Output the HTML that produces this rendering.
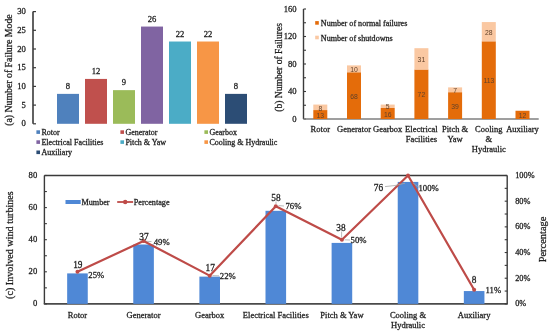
<!DOCTYPE html>
<html><head><meta charset="utf-8"><style>
html,body{margin:0;padding:0;background:#fff;width:550px;height:333px;overflow:hidden;}
svg{display:block;will-change:transform;}
</style></head><body>
<svg width="550" height="333" viewBox="0 0 550 333" style="font-family:'Liberation Serif', serif">
<rect width="550" height="333" fill="#fff"/>
<line x1="33.00" y1="11.60" x2="33.00" y2="123.80" stroke="#3a3a3a" stroke-width="1.6"/>
<line x1="33.00" y1="123.80" x2="36.00" y2="123.80" stroke="#3a3a3a" stroke-width="1.2"/>
<text x="25.80" y="126.40" font-size="8.6" text-anchor="end" fill="#1e1e1e" stroke="#1e1e1e" stroke-width="0.28" font-family='"Liberation Serif", serif' >0</text>
<line x1="33.00" y1="105.10" x2="36.00" y2="105.10" stroke="#3a3a3a" stroke-width="1.2"/>
<text x="25.80" y="107.70" font-size="8.6" text-anchor="end" fill="#1e1e1e" stroke="#1e1e1e" stroke-width="0.28" font-family='"Liberation Serif", serif' >5</text>
<line x1="33.00" y1="86.40" x2="36.00" y2="86.40" stroke="#3a3a3a" stroke-width="1.2"/>
<text x="25.80" y="89.00" font-size="8.6" text-anchor="end" fill="#1e1e1e" stroke="#1e1e1e" stroke-width="0.28" font-family='"Liberation Serif", serif' >10</text>
<line x1="33.00" y1="67.70" x2="36.00" y2="67.70" stroke="#3a3a3a" stroke-width="1.2"/>
<text x="25.80" y="70.30" font-size="8.6" text-anchor="end" fill="#1e1e1e" stroke="#1e1e1e" stroke-width="0.28" font-family='"Liberation Serif", serif' >15</text>
<line x1="33.00" y1="49.00" x2="36.00" y2="49.00" stroke="#3a3a3a" stroke-width="1.2"/>
<text x="25.80" y="51.60" font-size="8.6" text-anchor="end" fill="#1e1e1e" stroke="#1e1e1e" stroke-width="0.28" font-family='"Liberation Serif", serif' >20</text>
<line x1="33.00" y1="30.30" x2="36.00" y2="30.30" stroke="#3a3a3a" stroke-width="1.2"/>
<text x="25.80" y="32.90" font-size="8.6" text-anchor="end" fill="#1e1e1e" stroke="#1e1e1e" stroke-width="0.28" font-family='"Liberation Serif", serif' >25</text>
<line x1="33.00" y1="11.60" x2="36.00" y2="11.60" stroke="#3a3a3a" stroke-width="1.2"/>
<text x="25.80" y="14.20" font-size="8.6" text-anchor="end" fill="#1e1e1e" stroke="#1e1e1e" stroke-width="0.28" font-family='"Liberation Serif", serif' >30</text>
<rect x="57.00" y="93.88" width="22.00" height="29.92" fill="#4F81BD"/>
<text x="68.00" y="88.88" font-size="8.6" text-anchor="middle" fill="#1e1e1e" stroke="#1e1e1e" stroke-width="0.28" font-family='"Liberation Serif", serif' >8</text>
<rect x="85.00" y="78.92" width="22.00" height="44.88" fill="#C0504D"/>
<text x="96.00" y="73.92" font-size="8.6" text-anchor="middle" fill="#1e1e1e" stroke="#1e1e1e" stroke-width="0.28" font-family='"Liberation Serif", serif' >12</text>
<rect x="113.00" y="90.14" width="22.00" height="33.66" fill="#9BBB59"/>
<text x="124.00" y="85.14" font-size="8.6" text-anchor="middle" fill="#1e1e1e" stroke="#1e1e1e" stroke-width="0.28" font-family='"Liberation Serif", serif' >9</text>
<rect x="141.00" y="26.56" width="22.00" height="97.24" fill="#8064A2"/>
<text x="152.00" y="21.56" font-size="8.6" text-anchor="middle" fill="#1e1e1e" stroke="#1e1e1e" stroke-width="0.28" font-family='"Liberation Serif", serif' >26</text>
<rect x="169.00" y="41.52" width="22.00" height="82.28" fill="#4BACC6"/>
<text x="180.00" y="36.52" font-size="8.6" text-anchor="middle" fill="#1e1e1e" stroke="#1e1e1e" stroke-width="0.28" font-family='"Liberation Serif", serif' >22</text>
<rect x="197.00" y="41.52" width="22.00" height="82.28" fill="#F79646"/>
<text x="208.00" y="36.52" font-size="8.6" text-anchor="middle" fill="#1e1e1e" stroke="#1e1e1e" stroke-width="0.28" font-family='"Liberation Serif", serif' >22</text>
<rect x="225.00" y="93.88" width="22.00" height="29.92" fill="#2C4D75"/>
<text x="236.00" y="88.88" font-size="8.6" text-anchor="middle" fill="#1e1e1e" stroke="#1e1e1e" stroke-width="0.28" font-family='"Liberation Serif", serif' >8</text>
<rect x="36.40" y="130.30" width="3.60" height="3.60" fill="#4F81BD"/>
<text x="41.40" y="135.00" font-size="8.0" text-anchor="start" fill="#1e1e1e" stroke="#1e1e1e" stroke-width="0.28" font-family='"Liberation Serif", serif' >Rotor</text>
<rect x="120.40" y="130.30" width="3.60" height="3.60" fill="#C0504D"/>
<text x="125.40" y="135.00" font-size="8.0" text-anchor="start" fill="#1e1e1e" stroke="#1e1e1e" stroke-width="0.28" font-family='"Liberation Serif", serif' >Generator</text>
<rect x="204.40" y="130.30" width="3.60" height="3.60" fill="#9BBB59"/>
<text x="209.40" y="135.00" font-size="8.0" text-anchor="start" fill="#1e1e1e" stroke="#1e1e1e" stroke-width="0.28" font-family='"Liberation Serif", serif' >Gearbox</text>
<rect x="36.40" y="140.30" width="3.60" height="3.60" fill="#8064A2"/>
<text x="41.40" y="145.00" font-size="8.0" text-anchor="start" fill="#1e1e1e" stroke="#1e1e1e" stroke-width="0.28" font-family='"Liberation Serif", serif' >Electrical Facilities</text>
<rect x="120.40" y="140.30" width="3.60" height="3.60" fill="#4BACC6"/>
<text x="125.40" y="145.00" font-size="8.0" text-anchor="start" fill="#1e1e1e" stroke="#1e1e1e" stroke-width="0.28" font-family='"Liberation Serif", serif' >Pitch &amp; Yaw</text>
<rect x="204.40" y="140.30" width="3.60" height="3.60" fill="#F79646"/>
<text x="209.40" y="145.00" font-size="8.0" text-anchor="start" fill="#1e1e1e" stroke="#1e1e1e" stroke-width="0.28" font-family='"Liberation Serif", serif' >Cooling &amp; Hydraulic</text>
<rect x="36.40" y="150.50" width="3.60" height="3.60" fill="#2C4D75"/>
<text x="41.40" y="155.20" font-size="8.0" text-anchor="start" fill="#1e1e1e" stroke="#1e1e1e" stroke-width="0.28" font-family='"Liberation Serif", serif' >Auxiliary</text>
<text x="0.00" y="0.00" font-size="9.8" text-anchor="middle" fill="#1e1e1e" stroke="#1e1e1e" stroke-width="0.28" font-family='"Liberation Serif", serif' transform="translate(12.3,70.1) rotate(-90)">(a) Number of Failure Mode</text>
<line x1="303.50" y1="9.00" x2="303.50" y2="119.00" stroke="#3a3a3a" stroke-width="1.4"/>
<line x1="303.50" y1="119.00" x2="306.00" y2="119.00" stroke="#3a3a3a" stroke-width="1.1"/>
<text x="296.60" y="121.60" font-size="8.6" text-anchor="end" fill="#1e1e1e" stroke="#1e1e1e" stroke-width="0.28" font-family='"Liberation Serif", serif' >0</text>
<line x1="303.50" y1="105.25" x2="306.00" y2="105.25" stroke="#3a3a3a" stroke-width="1.1"/>
<line x1="303.50" y1="91.50" x2="306.00" y2="91.50" stroke="#3a3a3a" stroke-width="1.1"/>
<text x="296.60" y="94.10" font-size="8.6" text-anchor="end" fill="#1e1e1e" stroke="#1e1e1e" stroke-width="0.28" font-family='"Liberation Serif", serif' >40</text>
<line x1="303.50" y1="77.75" x2="306.00" y2="77.75" stroke="#3a3a3a" stroke-width="1.1"/>
<line x1="303.50" y1="64.00" x2="306.00" y2="64.00" stroke="#3a3a3a" stroke-width="1.1"/>
<text x="296.60" y="66.60" font-size="8.6" text-anchor="end" fill="#1e1e1e" stroke="#1e1e1e" stroke-width="0.28" font-family='"Liberation Serif", serif' >80</text>
<line x1="303.50" y1="50.25" x2="306.00" y2="50.25" stroke="#3a3a3a" stroke-width="1.1"/>
<line x1="303.50" y1="36.50" x2="306.00" y2="36.50" stroke="#3a3a3a" stroke-width="1.1"/>
<text x="296.60" y="39.10" font-size="8.6" text-anchor="end" fill="#1e1e1e" stroke="#1e1e1e" stroke-width="0.28" font-family='"Liberation Serif", serif' >120</text>
<line x1="303.50" y1="22.75" x2="306.00" y2="22.75" stroke="#3a3a3a" stroke-width="1.1"/>
<line x1="303.50" y1="9.00" x2="306.00" y2="9.00" stroke="#3a3a3a" stroke-width="1.1"/>
<text x="296.60" y="11.60" font-size="8.6" text-anchor="end" fill="#1e1e1e" stroke="#1e1e1e" stroke-width="0.28" font-family='"Liberation Serif", serif' >160</text>
<line x1="303.50" y1="119.00" x2="538.70" y2="119.00" stroke="#7f7f7f" stroke-width="1.6"/>
<rect x="313.30" y="110.06" width="14.00" height="8.94" fill="#E46C0A"/>
<text x="320.30" y="117.73" font-size="6.8" text-anchor="middle" fill="#62422a" font-family='"Liberation Sans", sans-serif' >13</text>
<rect x="313.30" y="104.56" width="14.00" height="5.50" fill="#FAC8A2"/>
<text x="320.30" y="110.51" font-size="6.8" text-anchor="middle" fill="#62422a" font-family='"Liberation Sans", sans-serif' >8</text>
<rect x="347.00" y="72.25" width="14.00" height="46.75" fill="#E46C0A"/>
<text x="354.00" y="98.83" font-size="6.8" text-anchor="middle" fill="#62422a" font-family='"Liberation Sans", sans-serif' >68</text>
<rect x="347.00" y="65.38" width="14.00" height="6.88" fill="#FAC8A2"/>
<text x="354.00" y="72.01" font-size="6.8" text-anchor="middle" fill="#62422a" font-family='"Liberation Sans", sans-serif' >10</text>
<rect x="380.70" y="108.00" width="14.00" height="11.00" fill="#E46C0A"/>
<text x="387.70" y="116.70" font-size="6.8" text-anchor="middle" fill="#62422a" font-family='"Liberation Sans", sans-serif' >16</text>
<rect x="380.70" y="104.56" width="14.00" height="3.44" fill="#FAC8A2"/>
<text x="387.70" y="109.48" font-size="6.8" text-anchor="middle" fill="#62422a" font-family='"Liberation Sans", sans-serif' >5</text>
<rect x="414.40" y="69.50" width="14.00" height="49.50" fill="#E46C0A"/>
<text x="421.40" y="97.45" font-size="6.8" text-anchor="middle" fill="#62422a" font-family='"Liberation Sans", sans-serif' >72</text>
<rect x="414.40" y="48.19" width="14.00" height="21.31" fill="#FAC8A2"/>
<text x="421.40" y="62.04" font-size="6.8" text-anchor="middle" fill="#62422a" font-family='"Liberation Sans", sans-serif' >31</text>
<rect x="448.10" y="92.19" width="14.00" height="26.81" fill="#E46C0A"/>
<text x="455.10" y="108.79" font-size="6.8" text-anchor="middle" fill="#62422a" font-family='"Liberation Sans", sans-serif' >39</text>
<rect x="448.10" y="87.38" width="14.00" height="4.81" fill="#FAC8A2"/>
<text x="455.10" y="92.98" font-size="6.8" text-anchor="middle" fill="#62422a" font-family='"Liberation Sans", sans-serif' >7</text>
<rect x="481.80" y="41.31" width="14.00" height="77.69" fill="#E46C0A"/>
<text x="488.80" y="83.36" font-size="6.8" text-anchor="middle" fill="#62422a" font-family='"Liberation Sans", sans-serif' >113</text>
<rect x="481.80" y="22.06" width="14.00" height="19.25" fill="#FAC8A2"/>
<text x="488.80" y="34.89" font-size="6.8" text-anchor="middle" fill="#62422a" font-family='"Liberation Sans", sans-serif' >28</text>
<rect x="515.50" y="110.75" width="14.00" height="8.25" fill="#E46C0A"/>
<text x="522.50" y="118.08" font-size="6.8" text-anchor="middle" fill="#62422a" font-family='"Liberation Sans", sans-serif' >12</text>
<rect x="315.20" y="21.10" width="3.60" height="3.60" fill="#E46C0A"/>
<text x="320.80" y="26.00" font-size="8.1" text-anchor="start" fill="#1e1e1e" stroke="#1e1e1e" stroke-width="0.28" font-family='"Liberation Serif", serif' >Number of normal failures</text>
<rect x="315.20" y="35.70" width="3.60" height="3.60" fill="#FAC8A2"/>
<text x="320.80" y="40.60" font-size="8.1" text-anchor="start" fill="#1e1e1e" stroke="#1e1e1e" stroke-width="0.28" font-family='"Liberation Serif", serif' >Number of shutdowns</text>
<text x="320.30" y="132.20" font-size="8.5" text-anchor="middle" fill="#1e1e1e" stroke="#1e1e1e" stroke-width="0.28" font-family='"Liberation Serif", serif' >Rotor</text>
<text x="354.00" y="132.20" font-size="8.5" text-anchor="middle" fill="#1e1e1e" stroke="#1e1e1e" stroke-width="0.28" font-family='"Liberation Serif", serif' >Generator</text>
<text x="387.70" y="132.20" font-size="8.5" text-anchor="middle" fill="#1e1e1e" stroke="#1e1e1e" stroke-width="0.28" font-family='"Liberation Serif", serif' >Gearbox</text>
<text x="421.40" y="132.20" font-size="8.5" text-anchor="middle" fill="#1e1e1e" stroke="#1e1e1e" stroke-width="0.28" font-family='"Liberation Serif", serif' >Electrical</text>
<text x="421.40" y="142.00" font-size="8.5" text-anchor="middle" fill="#1e1e1e" stroke="#1e1e1e" stroke-width="0.28" font-family='"Liberation Serif", serif' >Facilities</text>
<text x="455.10" y="132.20" font-size="8.5" text-anchor="middle" fill="#1e1e1e" stroke="#1e1e1e" stroke-width="0.28" font-family='"Liberation Serif", serif' >Pitch &amp;</text>
<text x="455.10" y="142.00" font-size="8.5" text-anchor="middle" fill="#1e1e1e" stroke="#1e1e1e" stroke-width="0.28" font-family='"Liberation Serif", serif' >Yaw</text>
<text x="488.80" y="132.20" font-size="8.5" text-anchor="middle" fill="#1e1e1e" stroke="#1e1e1e" stroke-width="0.28" font-family='"Liberation Serif", serif' >Cooling</text>
<text x="488.80" y="142.00" font-size="8.5" text-anchor="middle" fill="#1e1e1e" stroke="#1e1e1e" stroke-width="0.28" font-family='"Liberation Serif", serif' >&amp;</text>
<text x="488.80" y="151.80" font-size="8.5" text-anchor="middle" fill="#1e1e1e" stroke="#1e1e1e" stroke-width="0.28" font-family='"Liberation Serif", serif' >Hydraulic</text>
<text x="522.50" y="132.20" font-size="8.5" text-anchor="middle" fill="#1e1e1e" stroke="#1e1e1e" stroke-width="0.28" font-family='"Liberation Serif", serif' >Auxiliary</text>
<text x="0.00" y="0.00" font-size="9.6" text-anchor="middle" fill="#1e1e1e" stroke="#1e1e1e" stroke-width="0.28" font-family='"Liberation Serif", serif' transform="translate(282.0,67.4) rotate(-90)">(b) Number of Failures</text>
<line x1="44.40" y1="175.50" x2="507.20" y2="175.50" stroke="#3a3a3a" stroke-width="1.4"/>
<line x1="44.40" y1="175.50" x2="44.40" y2="303.90" stroke="#3a3a3a" stroke-width="1.4"/>
<line x1="507.20" y1="175.50" x2="507.20" y2="303.90" stroke="#3a3a3a" stroke-width="1.4"/>
<line x1="43.80" y1="303.90" x2="507.80" y2="303.90" stroke="#4a4a4a" stroke-width="1.6"/>
<line x1="44.40" y1="303.90" x2="46.90" y2="303.90" stroke="#3a3a3a" stroke-width="1.1"/>
<text x="37.20" y="306.40" font-size="8.6" text-anchor="end" fill="#1e1e1e" stroke="#1e1e1e" stroke-width="0.28" font-family='"Liberation Serif", serif' >0</text>
<line x1="44.40" y1="287.85" x2="46.90" y2="287.85" stroke="#3a3a3a" stroke-width="1.1"/>
<line x1="44.40" y1="271.80" x2="46.90" y2="271.80" stroke="#3a3a3a" stroke-width="1.1"/>
<text x="37.20" y="274.30" font-size="8.6" text-anchor="end" fill="#1e1e1e" stroke="#1e1e1e" stroke-width="0.28" font-family='"Liberation Serif", serif' >20</text>
<line x1="44.40" y1="255.75" x2="46.90" y2="255.75" stroke="#3a3a3a" stroke-width="1.1"/>
<line x1="44.40" y1="239.70" x2="46.90" y2="239.70" stroke="#3a3a3a" stroke-width="1.1"/>
<text x="37.20" y="242.20" font-size="8.6" text-anchor="end" fill="#1e1e1e" stroke="#1e1e1e" stroke-width="0.28" font-family='"Liberation Serif", serif' >40</text>
<line x1="44.40" y1="223.65" x2="46.90" y2="223.65" stroke="#3a3a3a" stroke-width="1.1"/>
<line x1="44.40" y1="207.60" x2="46.90" y2="207.60" stroke="#3a3a3a" stroke-width="1.1"/>
<text x="37.20" y="210.10" font-size="8.6" text-anchor="end" fill="#1e1e1e" stroke="#1e1e1e" stroke-width="0.28" font-family='"Liberation Serif", serif' >60</text>
<line x1="44.40" y1="191.55" x2="46.90" y2="191.55" stroke="#3a3a3a" stroke-width="1.1"/>
<line x1="44.40" y1="175.50" x2="46.90" y2="175.50" stroke="#3a3a3a" stroke-width="1.1"/>
<text x="37.20" y="178.00" font-size="8.6" text-anchor="end" fill="#1e1e1e" stroke="#1e1e1e" stroke-width="0.28" font-family='"Liberation Serif", serif' >80</text>
<line x1="504.70" y1="303.90" x2="507.20" y2="303.90" stroke="#3a3a3a" stroke-width="1.1"/>
<text x="515.20" y="306.40" font-size="8.3" text-anchor="start" fill="#1e1e1e" stroke="#1e1e1e" stroke-width="0.28" font-family='"Liberation Serif", serif' >0%</text>
<line x1="504.70" y1="291.06" x2="507.20" y2="291.06" stroke="#3a3a3a" stroke-width="1.1"/>
<line x1="504.70" y1="278.22" x2="507.20" y2="278.22" stroke="#3a3a3a" stroke-width="1.1"/>
<text x="515.20" y="280.72" font-size="8.3" text-anchor="start" fill="#1e1e1e" stroke="#1e1e1e" stroke-width="0.28" font-family='"Liberation Serif", serif' >20%</text>
<line x1="504.70" y1="265.38" x2="507.20" y2="265.38" stroke="#3a3a3a" stroke-width="1.1"/>
<line x1="504.70" y1="252.54" x2="507.20" y2="252.54" stroke="#3a3a3a" stroke-width="1.1"/>
<text x="515.20" y="255.04" font-size="8.3" text-anchor="start" fill="#1e1e1e" stroke="#1e1e1e" stroke-width="0.28" font-family='"Liberation Serif", serif' >40%</text>
<line x1="504.70" y1="239.70" x2="507.20" y2="239.70" stroke="#3a3a3a" stroke-width="1.1"/>
<line x1="504.70" y1="226.86" x2="507.20" y2="226.86" stroke="#3a3a3a" stroke-width="1.1"/>
<text x="515.20" y="229.36" font-size="8.3" text-anchor="start" fill="#1e1e1e" stroke="#1e1e1e" stroke-width="0.28" font-family='"Liberation Serif", serif' >60%</text>
<line x1="504.70" y1="214.02" x2="507.20" y2="214.02" stroke="#3a3a3a" stroke-width="1.1"/>
<line x1="504.70" y1="201.18" x2="507.20" y2="201.18" stroke="#3a3a3a" stroke-width="1.1"/>
<text x="515.20" y="203.68" font-size="8.3" text-anchor="start" fill="#1e1e1e" stroke="#1e1e1e" stroke-width="0.28" font-family='"Liberation Serif", serif' >80%</text>
<line x1="504.70" y1="188.34" x2="507.20" y2="188.34" stroke="#3a3a3a" stroke-width="1.1"/>
<line x1="504.70" y1="175.50" x2="507.20" y2="175.50" stroke="#3a3a3a" stroke-width="1.1"/>
<text x="515.20" y="178.00" font-size="8.3" text-anchor="start" fill="#1e1e1e" stroke="#1e1e1e" stroke-width="0.28" font-family='"Liberation Serif", serif' >100%</text>
<rect x="67.16" y="273.40" width="20.60" height="30.50" fill="#4F88D6"/>
<rect x="133.27" y="244.51" width="20.60" height="59.38" fill="#4F88D6"/>
<rect x="199.39" y="276.62" width="20.60" height="27.28" fill="#4F88D6"/>
<rect x="265.50" y="210.81" width="20.60" height="93.09" fill="#4F88D6"/>
<rect x="331.61" y="242.91" width="20.60" height="60.99" fill="#4F88D6"/>
<rect x="397.73" y="181.92" width="20.60" height="121.98" fill="#4F88D6"/>
<rect x="463.84" y="291.06" width="20.60" height="12.84" fill="#4F88D6"/>
<line x1="276" y1="201.5" x2="276" y2="204" stroke="#a8a8a8" stroke-width="0.8"/>
<line x1="341.6" y1="231.5" x2="341.6" y2="237.5" stroke="#a8a8a8" stroke-width="0.8"/>
<line x1="344.5" y1="239.8" x2="350" y2="240" stroke="#a8a8a8" stroke-width="0.8"/>
<line x1="278.5" y1="205.6" x2="284" y2="206" stroke="#a8a8a8" stroke-width="0.8"/>
<line x1="212.5" y1="275.6" x2="219" y2="275.8" stroke="#a8a8a8" stroke-width="0.8"/>
<line x1="145.5" y1="241.2" x2="151.5" y2="241.6" stroke="#a8a8a8" stroke-width="0.8"/>
<polyline points="77.46,271.80 143.57,240.98 209.69,275.65 275.80,206.32 341.91,239.70 408.03,175.50 474.14,289.78" fill="none" stroke="#BE4B48" stroke-width="2.2" stroke-linejoin="round"/>
<circle cx="77.46" cy="271.80" r="2.0" fill="#BE4B48"/>
<circle cx="143.57" cy="240.98" r="2.0" fill="#BE4B48"/>
<circle cx="209.69" cy="275.65" r="2.0" fill="#BE4B48"/>
<circle cx="275.80" cy="206.32" r="2.0" fill="#BE4B48"/>
<circle cx="341.91" cy="239.70" r="2.0" fill="#BE4B48"/>
<circle cx="408.03" cy="175.50" r="2.0" fill="#BE4B48"/>
<circle cx="474.14" cy="289.78" r="2.0" fill="#BE4B48"/>
<text x="77.80" y="267.80" font-size="9.3" text-anchor="middle" fill="#1e1e1e" stroke="#1e1e1e" stroke-width="0.28" font-family='"Liberation Serif", serif' >19</text>
<text x="88.30" y="277.90" font-size="8.7" text-anchor="start" fill="#1e1e1e" stroke="#1e1e1e" stroke-width="0.28" font-family='"Liberation Serif", serif' >25%</text>
<text x="144.00" y="239.80" font-size="9.3" text-anchor="middle" fill="#1e1e1e" stroke="#1e1e1e" stroke-width="0.28" font-family='"Liberation Serif", serif' >37</text>
<text x="153.70" y="245.10" font-size="8.7" text-anchor="start" fill="#1e1e1e" stroke="#1e1e1e" stroke-width="0.28" font-family='"Liberation Serif", serif' >49%</text>
<text x="210.20" y="271.00" font-size="9.3" text-anchor="middle" fill="#1e1e1e" stroke="#1e1e1e" stroke-width="0.28" font-family='"Liberation Serif", serif' >17</text>
<text x="219.80" y="278.80" font-size="8.7" text-anchor="start" fill="#1e1e1e" stroke="#1e1e1e" stroke-width="0.28" font-family='"Liberation Serif", serif' >22%</text>
<text x="276.00" y="201.30" font-size="9.3" text-anchor="middle" fill="#1e1e1e" stroke="#1e1e1e" stroke-width="0.28" font-family='"Liberation Serif", serif' >58</text>
<text x="285.50" y="209.00" font-size="8.7" text-anchor="start" fill="#1e1e1e" stroke="#1e1e1e" stroke-width="0.28" font-family='"Liberation Serif", serif' >76%</text>
<text x="341.00" y="231.00" font-size="9.3" text-anchor="middle" fill="#1e1e1e" stroke="#1e1e1e" stroke-width="0.28" font-family='"Liberation Serif", serif' >38</text>
<text x="350.60" y="242.80" font-size="8.7" text-anchor="start" fill="#1e1e1e" stroke="#1e1e1e" stroke-width="0.28" font-family='"Liberation Serif", serif' >50%</text>
<text x="378.40" y="190.60" font-size="9.3" text-anchor="middle" fill="#1e1e1e" stroke="#1e1e1e" stroke-width="0.28" font-family='"Liberation Serif", serif' >76</text>
<text x="418.50" y="191.30" font-size="8.7" text-anchor="start" fill="#1e1e1e" stroke="#1e1e1e" stroke-width="0.28" font-family='"Liberation Serif", serif' >100%</text>
<text x="474.20" y="282.90" font-size="9.3" text-anchor="middle" fill="#1e1e1e" stroke="#1e1e1e" stroke-width="0.28" font-family='"Liberation Serif", serif' >8</text>
<text x="485.60" y="293.40" font-size="8.7" text-anchor="start" fill="#1e1e1e" stroke="#1e1e1e" stroke-width="0.28" font-family='"Liberation Serif", serif' >11%</text>
<polyline points="385,186.6 395,185.5 405,183.2" fill="none" stroke="#a6a6a6" stroke-width="0.8"/>
<polyline points="413,182.8 417,186 420,188" fill="none" stroke="#a6a6a6" stroke-width="0.8"/>
<rect x="65.50" y="200.00" width="15.20" height="4.00" fill="#4F88D6"/>
<text x="81.40" y="205.00" font-size="8.2" text-anchor="start" fill="#1e1e1e" stroke="#1e1e1e" stroke-width="0.28" font-family='"Liberation Serif", serif' >Mumber</text>
<line x1="117.20" y1="202.00" x2="133.10" y2="202.00" stroke="#BE4B48" stroke-width="1.8"/>
<circle cx="125.2" cy="202" r="2.2" fill="#BE4B48"/>
<text x="133.70" y="205.00" font-size="8.2" text-anchor="start" fill="#1e1e1e" stroke="#1e1e1e" stroke-width="0.28" font-family='"Liberation Serif", serif' >Percentage</text>
<text x="77.46" y="317.50" font-size="8.5" text-anchor="middle" fill="#1e1e1e" stroke="#1e1e1e" stroke-width="0.28" font-family='"Liberation Serif", serif' >Rotor</text>
<text x="143.57" y="317.50" font-size="8.5" text-anchor="middle" fill="#1e1e1e" stroke="#1e1e1e" stroke-width="0.28" font-family='"Liberation Serif", serif' >Generator</text>
<text x="209.69" y="317.50" font-size="8.5" text-anchor="middle" fill="#1e1e1e" stroke="#1e1e1e" stroke-width="0.28" font-family='"Liberation Serif", serif' >Gearbox</text>
<text x="275.80" y="317.50" font-size="8.5" text-anchor="middle" fill="#1e1e1e" stroke="#1e1e1e" stroke-width="0.28" font-family='"Liberation Serif", serif' >Electrical Facilities</text>
<text x="341.91" y="317.50" font-size="8.5" text-anchor="middle" fill="#1e1e1e" stroke="#1e1e1e" stroke-width="0.28" font-family='"Liberation Serif", serif' >Pitch &amp; Yaw</text>
<text x="408.03" y="317.50" font-size="8.5" text-anchor="middle" fill="#1e1e1e" stroke="#1e1e1e" stroke-width="0.28" font-family='"Liberation Serif", serif' >Cooling &amp;</text>
<text x="408.03" y="328.00" font-size="8.5" text-anchor="middle" fill="#1e1e1e" stroke="#1e1e1e" stroke-width="0.28" font-family='"Liberation Serif", serif' >Hydraulic</text>
<text x="474.14" y="317.50" font-size="8.5" text-anchor="middle" fill="#1e1e1e" stroke="#1e1e1e" stroke-width="0.28" font-family='"Liberation Serif", serif' >Auxiliary</text>
<text x="0.00" y="0.00" font-size="10.15" text-anchor="middle" fill="#1e1e1e" stroke="#1e1e1e" stroke-width="0.28" font-family='"Liberation Serif", serif' transform="translate(13.0,245.1) rotate(-90)">(c) Involved wind turbines</text>
<text x="0.00" y="0.00" font-size="10.4" text-anchor="middle" fill="#1e1e1e" stroke="#1e1e1e" stroke-width="0.28" font-family='"Liberation Serif", serif' transform="translate(545.8,239.5) rotate(-90)">Percentage</text>
</svg>
</body></html>
